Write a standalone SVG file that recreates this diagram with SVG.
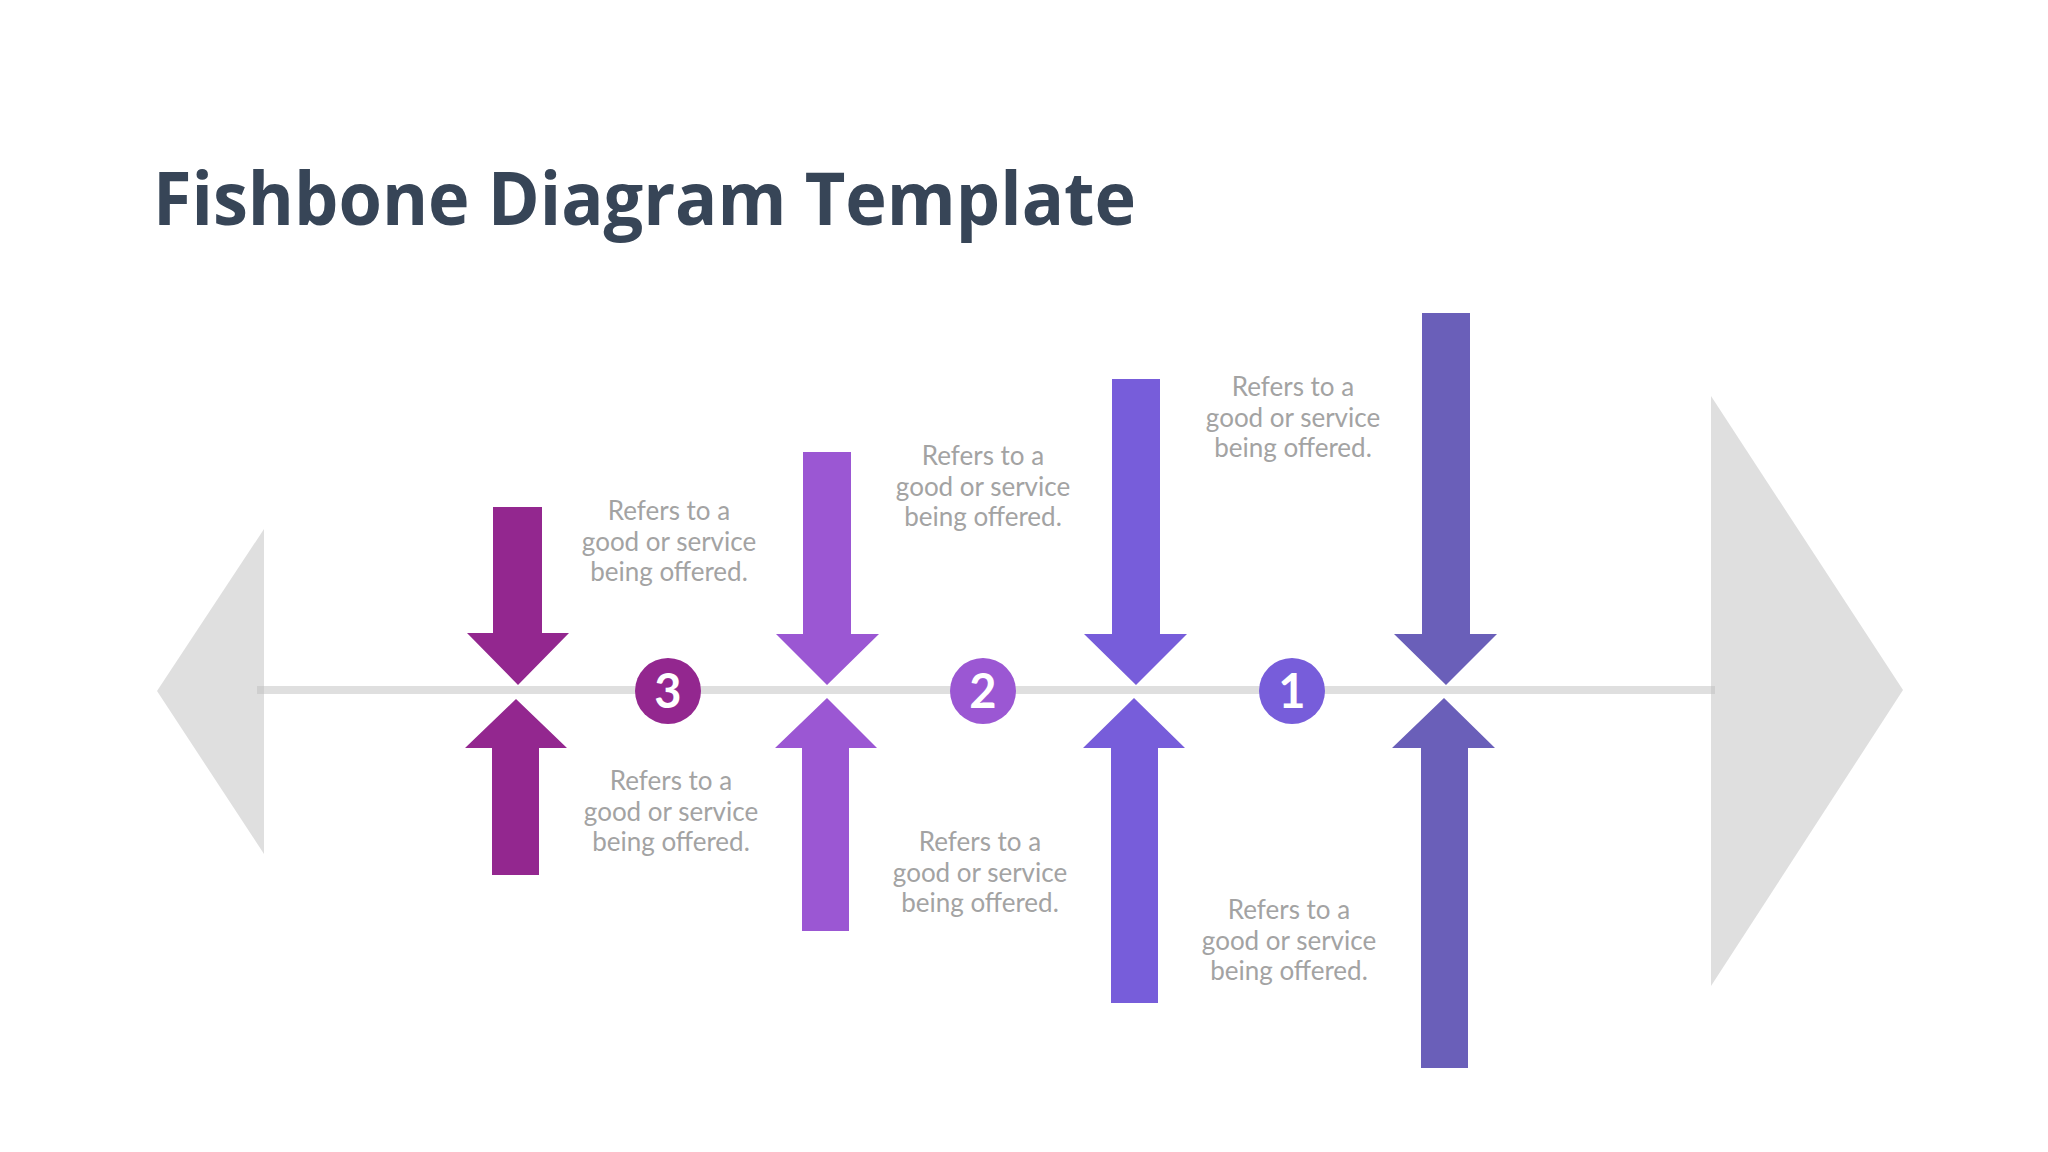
<svg xmlns="http://www.w3.org/2000/svg" width="2048" height="1152" viewBox="0 0 2048 1152">
<style>
.title{font-family:"Open Sans","Liberation Sans",sans-serif;font-weight:700;font-size:74px;fill:#374557}
.desc{font-family:Lato,"Open Sans","Liberation Sans",sans-serif;font-size:26px;fill:#a3a3a3;text-anchor:middle}
.num{font-family:Lato,"Liberation Sans",sans-serif;font-weight:700;font-size:47px;fill:#ffffff;text-anchor:middle}
.fin{fill:#dfdfdf}
.c1{fill:#93278f}
.c2{fill:#9b57d3}
.c3{fill:#775dda}
.c4{fill:#6a5fb9}
</style>
<rect width="2048" height="1152" fill="#ffffff"/>
<text class="title" x="153" y="225" textLength="983" lengthAdjust="spacingAndGlyphs">Fishbone Diagram Template</text>

<g id="tail">
<polygon class="fin" points="264,529 157,691 264,854"/>
</g>
<g id="head">
<polygon class="fin" points="1711,396 1903,690 1711,986"/>
</g>

<g id="connectors">
<rect x="257" y="686" width="1458" height="8" fill="#bfbfbf" fill-opacity="0.5"/>
</g>

<g id="bone1-top">
<polygon class="c1" points="493,507 542,507 542,633 569,633 518,685 467,633 493,633"/>
<text class="desc" x="669" y="520">Refers to a</text>
<text class="desc" x="669" y="550.5">good or service</text>
<text class="desc" x="669" y="581">being offered.</text>
</g>
<g id="bone1-bottom">
<polygon class="c1" points="516,699 567,748 539,748 539,875 492,875 492,748 465,748"/>
<text class="desc" x="671" y="790">Refers to a</text>
<text class="desc" x="671" y="820.5">good or service</text>
<text class="desc" x="671" y="851">being offered.</text>
</g>
<g id="badge3">
<circle class="c1" cx="668" cy="691" r="33"/>
<text class="num" x="668" y="708">3</text>
</g>

<g id="bone2-top">
<polygon class="c2" points="803,452 851,452 851,634 879,634 827,685 776,634 803,634"/>
<text class="desc" x="983" y="465">Refers to a</text>
<text class="desc" x="983" y="495.5">good or service</text>
<text class="desc" x="983" y="526">being offered.</text>
</g>
<g id="bone2-bottom">
<polygon class="c2" points="827,698 877,748 849,748 849,931 802,931 802,748 775,748"/>
<text class="desc" x="980" y="851">Refers to a</text>
<text class="desc" x="980" y="881.5">good or service</text>
<text class="desc" x="980" y="912">being offered.</text>
</g>
<g id="badge2">
<circle class="c2" cx="983" cy="691" r="33"/>
<text class="num" x="983" y="708">2</text>
</g>

<g id="bone3-top">
<polygon class="c3" points="1112,379 1160,379 1160,634 1187,634 1136,685 1084,634 1112,634"/>
<text class="desc" x="1293" y="396">Refers to a</text>
<text class="desc" x="1293" y="426.5">good or service</text>
<text class="desc" x="1293" y="457">being offered.</text>
</g>
<g id="bone3-bottom">
<polygon class="c3" points="1134,698 1185,748 1158,748 1158,1003 1111,1003 1111,748 1083,748"/>
<text class="desc" x="1289" y="919">Refers to a</text>
<text class="desc" x="1289" y="949.5">good or service</text>
<text class="desc" x="1289" y="980">being offered.</text>
</g>
<g id="badge1">
<circle class="c3" cx="1292" cy="691" r="33"/>
<text class="num" x="1292" y="708">1</text>
</g>

<g id="bone4-top">
<polygon class="c4" points="1422,313 1470,313 1470,634 1497,634 1446,685 1394,634 1422,634"/>
</g>
<g id="bone4-bottom">
<polygon class="c4" points="1444,698 1495,748 1468,748 1468,1068 1421,1068 1421,748 1392,748"/>
</g>
</svg>
